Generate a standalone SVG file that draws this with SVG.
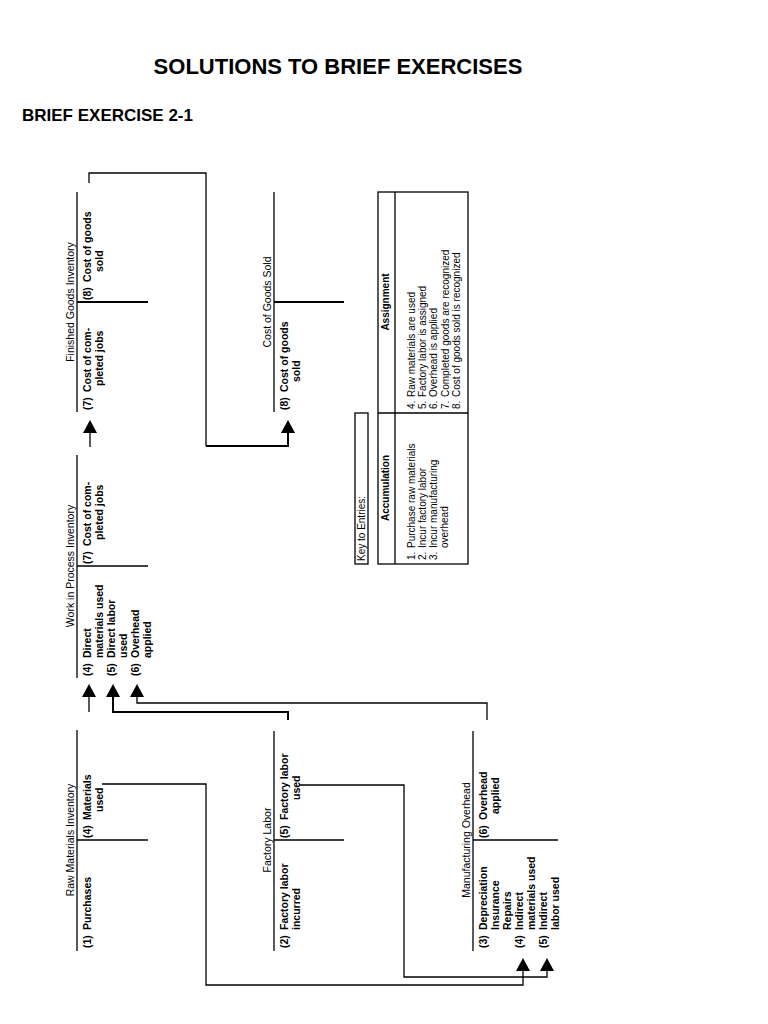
<svg xmlns="http://www.w3.org/2000/svg" width="768" height="1024" viewBox="0 0 768 1024">
<style>
text{font-family:"Liberation Sans",Arial,sans-serif;fill:#000}
.t{font-size:10.5px}
.e{font-size:10.5px;font-weight:bold}
.k{font-size:10px}
.h{font-size:10px;font-weight:bold}
.ln{stroke:#000;stroke-width:1.3;fill:none}
.th{stroke:#000;stroke-width:2;fill:none}
.ah{fill:#000}
</style>
<rect width="768" height="1024" fill="#fff"/>
<text x="338" y="74" text-anchor="middle" style="font-size:22px;font-weight:bold">SOLUTIONS TO BRIEF EXERCISES</text>
<text x="22" y="121" style="font-size:17px;font-weight:bold">BRIEF EXERCISE 2-1</text>

<g id="fg">
<line class="ln" x1="77" y1="192" x2="77" y2="412"/>
<line class="th" x1="77" y1="302" x2="148" y2="302"/>
<g transform="translate(77,302) rotate(-90)">
<text class="t" x="0" y="-3" text-anchor="middle">Finished Goods Inventory</text>
<text class="e" x="2" y="14">(8)</text><text class="e" x="20" y="14">Cost of goods</text><text class="e" x="30" y="26">sold</text>
<text class="e" x="-108" y="14">(7)</text><text class="e" x="-90" y="14">Cost of com-</text><text class="e" x="-84" y="26">pleted jobs</text>
</g>
</g>

<g id="cogs">
<line class="ln" x1="274" y1="192" x2="274" y2="412"/>
<line class="th" x1="274" y1="302" x2="344" y2="302"/>
<g transform="translate(274,302) rotate(-90)">
<text class="t" x="0" y="-3" text-anchor="middle">Cost of Goods Sold</text>
<text class="e" x="-108" y="14">(8)</text><text class="e" x="-90" y="14">Cost of goods</text><text class="e" x="-80" y="26">sold</text>
</g>
</g>

<g id="wip">
<line class="ln" x1="77" y1="455" x2="77" y2="678"/>
<line class="ln" x1="77" y1="566" x2="148" y2="566"/>
<g transform="translate(77,566) rotate(-90)">
<text class="t" x="0" y="-3" text-anchor="middle">Work in Process Inventory</text>
<text class="e" x="2" y="14">(7)</text><text class="e" x="20" y="14">Cost of com-</text><text class="e" x="26" y="26">pleted jobs</text>
<text class="e" x="-110" y="14">(4)</text><text class="e" x="-92" y="14">Direct</text><text class="e" x="-92" y="26">materials used</text>
<text class="e" x="-110" y="38">(5)</text><text class="e" x="-92" y="38">Direct labor</text><text class="e" x="-92" y="50">used</text>
<text class="e" x="-110" y="62">(6)</text><text class="e" x="-92" y="62">Overhead</text><text class="e" x="-92" y="74">applied</text>
</g>
</g>

<g id="rm">
<line class="ln" x1="77" y1="730" x2="77" y2="951"/>
<line class="ln" x1="77" y1="840" x2="148" y2="840"/>
<g transform="translate(77,840) rotate(-90)">
<text class="t" x="0" y="-3" text-anchor="middle">Raw Materials Inventory</text>
<text class="e" x="2" y="14">(4)</text><text class="e" x="20" y="14">Materials</text><text class="e" x="28" y="26">used</text>
<text class="e" x="-108" y="14">(1)</text><text class="e" x="-90" y="14">Purchases</text>
</g>
</g>

<g id="fl">
<line class="ln" x1="274" y1="731" x2="274" y2="951"/>
<line class="ln" x1="274" y1="840" x2="344" y2="840"/>
<g transform="translate(274,840) rotate(-90)">
<text class="t" x="0" y="-3" text-anchor="middle">Factory Labor</text>
<text class="e" x="2" y="14">(5)</text><text class="e" x="20" y="14">Factory labor</text><text class="e" x="40" y="26">used</text>
<text class="e" x="-108" y="14">(2)</text><text class="e" x="-90" y="14">Factory labor</text><text class="e" x="-90" y="26">incurred</text>
</g>
</g>

<g id="moh">
<line class="ln" x1="473" y1="731" x2="473" y2="951"/>
<line class="ln" x1="473" y1="840" x2="558" y2="840"/>
<g transform="translate(473,840) rotate(-90)">
<text class="t" x="0" y="-3" text-anchor="middle">Manufacturing Overhead</text>
<text class="e" x="2" y="14">(6)</text><text class="e" x="20" y="14">Overhead</text><text class="e" x="26" y="26">applied</text>
<text class="e" x="-108" y="14">(3)</text><text class="e" x="-90" y="14">Depreciation</text>
<text class="e" x="-90" y="26">Insurance</text><text class="e" x="-90" y="38">Repairs</text>
<text class="e" x="-108" y="50">(4)</text><text class="e" x="-90" y="50">Indirect</text><text class="e" x="-90" y="62">materials used</text>
<text class="e" x="-108" y="74">(5)</text><text class="e" x="-90" y="74">Indirect</text><text class="e" x="-90" y="86">labor used</text>
</g>
</g>

<g id="key">
<rect x="355" y="413" width="13" height="151" class="ln" stroke-width="1"/>
<text class="k" transform="translate(365,561) rotate(-90)">Key to Entries:</text>
<rect x="378" y="192" width="90" height="372" class="ln"/>
<line class="ln" x1="378" y1="413" x2="468" y2="413"/>
<line class="ln" x1="395" y1="192" x2="395" y2="564"/>
<text class="h" text-anchor="middle" transform="translate(389,488) rotate(-90)">Accumulation</text>
<text class="h" text-anchor="middle" transform="translate(389,302) rotate(-90)">Assignment</text>
<text class="k" transform="translate(415,560) rotate(-90)">1.</text><text class="k" transform="translate(415,548) rotate(-90)">Purchase raw materials</text>
<text class="k" transform="translate(426,560) rotate(-90)">2.</text><text class="k" transform="translate(426,548) rotate(-90)">Incur factory labor</text>
<text class="k" transform="translate(437,560) rotate(-90)">3.</text><text class="k" transform="translate(437,548) rotate(-90)">Incur manufacturing</text>
<text class="k" transform="translate(448,548) rotate(-90)">overhead</text>
<text class="k" transform="translate(415,409) rotate(-90)">4.</text><text class="k" transform="translate(415,397) rotate(-90)">Raw materials are used</text>
<text class="k" transform="translate(426,409) rotate(-90)">5.</text><text class="k" transform="translate(426,397) rotate(-90)">Factory labor is assigned</text>
<text class="k" transform="translate(437,409) rotate(-90)">6.</text><text class="k" transform="translate(437,397) rotate(-90)">Overhead is applied</text>
<text class="k" transform="translate(449,409) rotate(-90)">7.</text><text class="k" transform="translate(449,397) rotate(-90)">Completed goods are recognized</text>
<text class="k" transform="translate(460,409) rotate(-90)">8.</text><text class="k" transform="translate(460,397) rotate(-90)">Cost of goods sold is recognized</text>
</g>

<g id="connectors">
<polyline class="ln" points="89,183 89,173 206,173 206,446"/>
<polyline class="th" points="206,446 288,446 288,432"/>
<polygon class="ah" points="288,420 281,433 295,433"/>
<line class="ln" x1="90" y1="447" x2="90" y2="432"/>
<polygon class="ah" points="90,420 83,433 97,433"/>
<line class="ln" x1="89" y1="712" x2="89" y2="696"/>
<polygon class="ah" points="89,684 82,697 96,697"/>
<polyline class="th" points="113,696 113,712 288,712 288,720"/>
<polygon class="ah" points="113,684 106,697 120,697"/>
<polyline class="ln" points="137,696 137,703 487,703 487,720"/>
<polygon class="ah" points="137,684 130,697 144,697"/>
<polyline class="ln" points="102,784 206,784 206,985 523,985 523,969"/>
<polygon class="ah" points="523,958 516,971 530,971"/>
<polyline class="ln" points="299,785 404,785 404,977 547,977 547,969"/>
<polygon class="ah" points="547,958 540,971 554,971"/>
</g>
</svg>
